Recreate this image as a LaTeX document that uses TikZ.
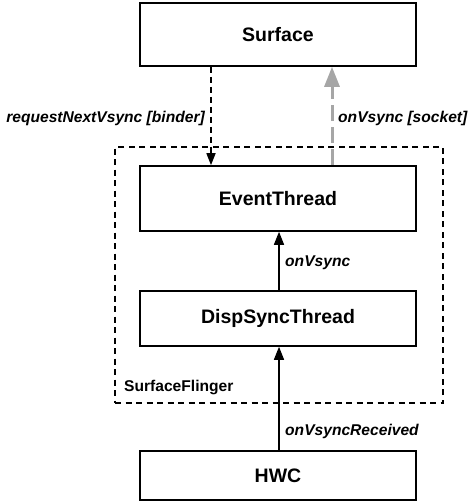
\documentclass[tikz,border=0pt]{standalone}
\usepackage{fontspec}
\setmainfont{Liberation Sans}
\usetikzlibrary{arrows.meta}
\definecolor{sockgray}{HTML}{A6A6A6}
\tikzset{
  box/.style={draw=black, line width=1.6pt, fill=white, minimum width=276pt, inner sep=0pt,
    font=\fontsize{19.5}{22}\selectfont\bfseries},
  lbl/.style={inner sep=0pt, font=\fontsize{15.6}{18}\selectfont\bfseries\itshape},
  grp/.style={draw=black, line width=1.3pt, dash pattern=on 6pt off 4.5pt, minimum width=328pt, minimum height=256pt, inner sep=0pt},
  solidarrow/.style={draw=black, line width=1.5pt, -{Triangle[length=13pt,width=10pt]}},
  reqarrow/.style={draw=black, line width=1.5pt, dash pattern=on 6pt off 4pt, -{Triangle[length=12pt,width=9pt]}},
  sockarrow/.style={draw=sockgray, line width=3pt, dash pattern=on 16pt off 6pt, -{Triangle[length=20pt,width=15pt]}}
}
\begin{document}
\begin{tikzpicture}[x=1pt,y=-1pt]
\useasboundingbox (0,0) rectangle (474,503);
\node[grp] (sf) at (279,275) {};
\node[box, minimum height=63pt] (surf) at (278,34.5) {Surface};
\node[box, minimum height=65pt] (et) at (278,198.5) {EventThread};
\node[box, minimum height=55pt] (ds) at (278,318.5) {DispSyncThread};
\node[box, minimum height=49pt] (hwc) at (278,475.5) {HWC};
\coordinate (xa) at (211,0);
\coordinate (xb) at (332,0);
\coordinate (xc) at (279,0);
\draw[reqarrow] (surf.south -| xa) -- (et.north -| xa);
\draw[sockarrow] (et.north -| xb) -- (surf.south -| xb);
\draw[solidarrow] (ds.north -| xc) -- (et.south -| xc);
\draw[solidarrow] (hwc.north -| xc) -- (ds.south -| xc);
\node[lbl, anchor=east] (l1) at (205,118) {requestNextVsync [binder]};
\node[lbl, anchor=west] (l2) at (338,118) {onVsync [socket]};
\node[lbl, anchor=west] (l3) at (285,263) {onVsync};
\node[lbl, anchor=west, font=\fontsize{15.6}{18}\selectfont\bfseries] (l4) at (124,387) {SurfaceFlinger};
\node[lbl, anchor=west] (l5) at (285,431) {onVsyncReceived};
\end{tikzpicture}
\end{document}
